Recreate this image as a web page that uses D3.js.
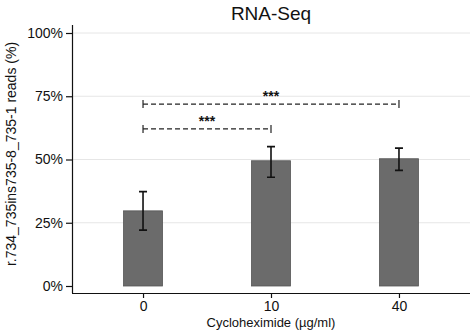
<!doctype html>
<html>
	<head>
		<meta charset="utf-8">
		<script src="https://cdnjs.cloudflare.com/ajax/libs/d3/7.8.5/d3.min.js"></script>
		<style>
			body { margin: 0; background: #fff; }
			svg { font-family: "Liberation Sans", Arial, sans-serif; }
			.grid line { stroke: #e6e6e6; stroke-width: 1; }
			rect.bar { fill: #6b6b6b; stroke: #555; stroke-width: 0.8; }
			path.err { stroke: #111; stroke-width: 1.6; fill: none; }
			.sig line { stroke: #222; stroke-width: 1.2; }
			.sig line.dash { stroke-dasharray: 5 3; }
			.axis path, .axis line { stroke: #111; stroke-width: 1.2; }
			.axis text { font-size: 14px; fill: #111; }
		</style>
	</head>
	<body>
		<svg width="474" height="334"></svg>
		<script>
			var doses = ["0", "10", "40"];
			var meanPct = [29.7, 49.5, 50.3];
			var lowPct = [22.1, 43.0, 45.7];
			var highPct = [37.3, 55.1, 54.5];
			var yTicks = [0, 25, 50, 75, 100];

			// pairwise comparisons: [from, to, height %, label]
			var comparisons = [
				["0", "10", 62.1, "***"],
				["0", "40", 71.9, "***"]
			];

			var svg = d3.select("svg");
			var plotL = 72, plotR = 470, plotT = 33, plotB = 286, axisY = 293;

			var x = d3.scalePoint().domain(doses).range([plotL, plotR]).padding(0.555);
			var y = d3.scaleLinear().domain([0, 100]).range([plotB, plotT]);
			var barW = 39;

			// horizontal grid
			svg.append("g").attr("class", "grid")
				.selectAll("line").data(yTicks.slice(1)).enter()
				.append("line")
				.attr("x1", plotL).attr("x2", plotR)
				.attr("y1", function (d) { return y(d); })
				.attr("y2", function (d) { return y(d); });

			// bars
			svg.selectAll("rect.bar").data(doses).enter()
				.append("rect")
				.attr("class", "bar")
				.attr("x", function (d) { return x(d) - barW / 2; })
				.attr("width", barW)
				.attr("y", function (d, i) { return y(meanPct[i]); })
				.attr("height", function (d, i) { return y(0) - y(meanPct[i]); });

			// error bars
			svg.selectAll("path.err").data(doses).enter()
				.append("path")
				.attr("class", "err")
				.attr("d", function (d, i) {
					var cx = x(d), c = 4;
					return "M" + (cx - c) + "," + y(highPct[i]) + "H" + (cx + c) +
						"M" + cx + "," + y(highPct[i]) + "V" + y(lowPct[i]) +
						"M" + (cx - c) + "," + y(lowPct[i]) + "H" + (cx + c);
				});

			// significance brackets
			var sig = svg.selectAll("g.sig").data(comparisons).enter()
				.append("g").attr("class", "sig");
			sig.append("line").attr("class", "dash")
				.attr("x1", function (d) { return x(d[0]); })
				.attr("x2", function (d) { return x(d[1]); })
				.attr("y1", function (d) { return y(d[2]); })
				.attr("y2", function (d) { return y(d[2]); });
			sig.append("line")
				.attr("x1", function (d) { return x(d[0]); })
				.attr("x2", function (d) { return x(d[0]); })
				.attr("y1", function (d) { return y(d[2]) - 4; })
				.attr("y2", function (d) { return y(d[2]) + 4; });
			sig.append("line")
				.attr("x1", function (d) { return x(d[1]); })
				.attr("x2", function (d) { return x(d[1]); })
				.attr("y1", function (d) { return y(d[2]) - 4; })
				.attr("y2", function (d) { return y(d[2]) + 4; });
			sig.append("text")
				.attr("x", function (d) { return (x(d[0]) + x(d[1])) / 2; })
				.attr("y", function (d) { return y(d[2]) - 3; })
				.attr("text-anchor", "middle")
				.style("font-size", "14px")
				.style("font-weight", "bold")
				.style("fill", "#111")
				.text(function (d) { return d[3]; });

			// y axis
			svg.append("g").attr("class", "axis")
				.attr("transform", "translate(" + plotL + ",0)")
				.call(d3.axisLeft(y).tickValues(yTicks).tickSize(6).tickSizeOuter(0)
					.tickFormat(function (d) { return d + "%"; }))
				.call(function (g) { g.select(".domain").attr("d", "M0.5," + (plotT - 8) + "V" + axisY); });

			// x axis
			svg.append("g").attr("class", "axis")
				.attr("transform", "translate(0," + axisY + ")")
				.call(d3.axisBottom(x).tickSize(5).tickSizeOuter(0).tickPadding(3))
				.call(function (g) { g.select(".domain").attr("d", "M" + plotL + ",0.5H" + plotR); });

			svg.append("text")
				.attr("x", (plotL + plotR) / 2).attr("y", 327)
				.attr("text-anchor", "middle")
				.style("font-size", "13px").style("fill", "#111")
				.text("Cycloheximide (\u00b5g/ml)");

			svg.append("text")
				.attr("transform", "translate(16,154) rotate(-90)")
				.attr("text-anchor", "middle")
				.style("font-size", "14px").style("fill", "#111")
				.text("r.734_735ins735-8_735-1 reads (%)");

			svg.append("text")
				.attr("x", (plotL + plotR) / 2).attr("y", 20)
				.attr("text-anchor", "middle")
				.style("font-size", "19px").style("fill", "#111")
				.text("RNA-Seq");
		</script>
	</body>
</html>
